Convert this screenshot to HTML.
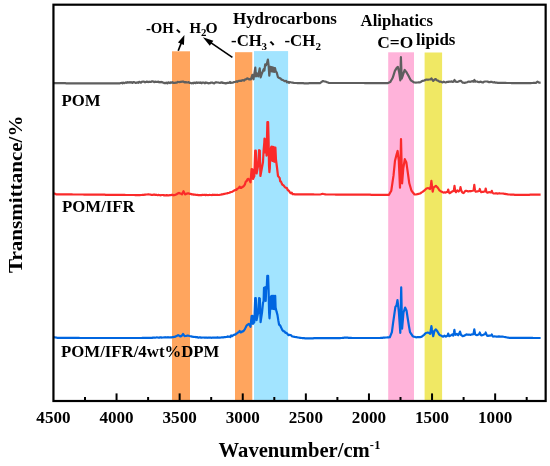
<!DOCTYPE html>
<html><head><meta charset="utf-8"><style>
html,body{margin:0;padding:0;background:#fff;}
svg{display:block;filter:blur(0.4px);}
text{font-family:"Liberation Serif","Noto Serif CJK SC",serif;font-weight:bold;fill:#000;}
</style></head><body>
<svg width="550" height="466" viewBox="0 0 550 466">
<rect x="0" y="0" width="550" height="466" fill="#fff"/>
<rect x="172" y="51.3" width="18" height="349" fill="#FFA55E"/>
<rect x="235" y="52.2" width="17.3" height="348" fill="#FFA55E"/>
<rect x="254" y="51.1" width="34.1" height="349" fill="#A2E4FF"/>
<rect x="388.2" y="52.3" width="25.8" height="348" fill="#FFB3DA"/>
<rect x="424.6" y="52.5" width="17.5" height="348" fill="#F0E864"/>
<g fill="none" stroke-width="2.2" stroke-linejoin="round">
<polyline points="54.0,83.2 54.8,83.2 55.6,83.2 56.4,83.2 57.2,83.2 58.0,83.2 58.8,83.2 59.6,83.2 60.5,83.2 61.3,83.2 62.1,83.2 62.9,83.2 63.7,83.2 64.5,83.2 65.3,83.2 66.1,83.3 66.9,83.3 67.7,83.3 68.5,83.3 69.3,83.3 70.1,83.3 70.9,83.3 71.8,83.3 72.6,83.3 73.4,83.3 74.2,83.3 75.0,83.3 75.8,83.3 76.6,83.3 77.4,83.3 78.2,83.3 79.0,83.3 79.8,83.3 80.6,83.3 81.4,83.3 82.2,83.3 83.1,83.3 83.9,83.3 84.7,83.3 85.5,83.3 86.3,83.3 87.1,83.3 87.9,83.3 88.7,83.4 89.5,83.4 90.3,83.4 91.1,83.4 91.9,83.4 92.7,83.4 93.5,83.4 94.4,83.4 95.2,83.4 96.0,83.4 96.8,83.4 97.6,83.4 98.4,83.4 99.2,83.4 100.0,83.4 100.8,83.4 101.6,83.4 102.4,83.4 103.2,83.4 104.0,83.4 104.8,83.4 105.6,83.4 106.4,83.4 107.2,83.4 108.0,83.4 108.8,83.4 109.6,83.4 110.4,83.3 111.2,83.3 112.0,83.3 112.8,83.3 113.6,83.3 114.4,83.3 115.2,83.3 116.0,83.3 116.8,83.3 117.6,83.3 118.4,83.3 119.2,83.3 120.0,83.3 120.8,83.0 121.7,82.8 122.5,83.3 123.3,82.6 124.2,83.1 125.0,82.8 125.8,82.4 126.7,82.8 127.5,82.2 128.3,82.6 129.2,82.1 130.0,82.6 130.8,82.1 131.7,82.5 132.5,82.9 133.3,82.0 134.2,82.1 135.0,82.6 135.8,83.0 136.7,82.5 137.5,82.3 138.3,82.9 139.2,81.8 140.0,82.3 140.9,82.7 141.7,81.9 142.6,81.7 143.4,81.6 144.3,81.8 145.1,82.3 146.0,81.9 146.8,81.5 147.6,82.0 148.4,82.1 149.2,81.7 150.0,81.9 150.8,82.0 151.7,81.4 152.5,81.4 153.3,81.5 154.2,82.1 155.0,81.8 155.8,81.7 156.7,82.0 157.5,81.8 158.3,81.7 159.2,82.3 160.0,81.9 160.8,82.3 161.7,81.9 162.5,82.5 163.3,82.6 164.2,83.2 165.0,82.9 165.8,83.2 166.6,82.6 167.5,83.4 168.3,82.4 169.1,82.7 169.9,83.1 170.7,82.4 171.5,82.7 172.4,82.2 173.2,82.9 174.0,82.7 174.9,82.9 175.8,82.5 176.8,82.7 177.7,81.9 178.6,82.0 179.5,82.1 180.4,81.9 181.4,81.8 182.3,81.5 183.2,81.5 184.1,82.1 185.0,82.4 185.9,82.1 186.8,82.5 187.7,82.5 188.6,82.1 189.5,82.9 190.5,82.9 191.4,83.4 192.3,82.9 193.2,83.3 194.0,82.7 194.9,82.8 195.7,83.1 196.6,82.4 197.4,82.9 198.3,82.6 199.1,82.5 200.0,83.0 200.8,82.5 201.7,83.3 202.5,82.5 203.3,82.6 204.2,82.8 205.0,83.3 205.8,82.4 206.7,82.8 207.5,82.9 208.3,83.3 209.2,83.2 210.0,83.2 210.8,82.5 211.7,82.7 212.5,82.6 213.3,83.2 214.2,83.3 215.0,82.7 215.8,82.3 216.7,82.4 217.5,82.5 218.3,82.5 219.2,82.8 220.0,83.0 220.8,82.6 221.7,82.3 222.5,82.8 223.3,82.8 224.2,83.1 225.0,83.0 225.8,83.5 226.7,83.1 227.5,82.8 228.3,82.8 229.2,82.8 230.0,82.0 230.8,82.9 231.7,82.7 232.5,82.7 233.3,82.5 234.2,82.0 235.0,82.0 235.8,81.8 236.6,81.3 237.5,81.8 238.3,81.0 239.1,80.8 239.9,80.9 240.7,80.7 241.5,80.8 242.4,80.3 243.2,80.1 244.0,80.6 244.8,79.8 245.6,79.3 246.4,79.2 247.2,78.4 248.0,78.6 249.0,79.3 249.9,79.2 250.9,79.3 252.4,74.9 253.5,79.3 254.4,73.4 255.3,67.6 256.0,76.4 257.1,73.5 258.2,76.4 259.7,68.4 260.6,77.5 261.9,73.5 262.8,71.3 263.7,69.1 264.4,70.5 265.2,64.3 265.9,65.4 267.0,63.3 267.9,59.6 268.6,65.4 269.3,75.7 270.3,66.9 271.2,67.1 271.8,71.4 272.5,67.4 273.1,71.7 273.7,67.8 274.4,71.9 275.0,68.1 275.7,71.3 276.8,72.7 277.9,77.1 279.4,78.2 280.5,78.4 281.6,79.7 282.6,79.8 283.5,80.4 284.5,81.1 285.4,81.1 286.2,80.9 287.1,82.3 288.0,81.9 288.9,82.8 289.7,82.1 290.6,82.3 291.4,82.5 292.2,82.6 293.1,82.7 293.9,82.9 294.8,83.0 295.7,83.0 296.5,83.0 297.4,83.1 298.2,83.1 299.1,83.1 299.9,83.2 300.8,83.2 301.6,83.2 302.4,83.2 303.3,83.2 304.1,83.3 305.0,83.3 305.8,83.3 306.7,83.3 307.5,83.3 308.3,83.3 309.2,83.2 310.0,83.2 310.8,83.2 311.7,83.2 312.5,83.2 313.3,83.2 314.2,83.2 315.0,83.2 315.8,83.2 316.7,83.1 317.5,83.1 318.3,83.1 319.2,83.1 320.0,83.1 321.0,82.4 322.0,81.7 323.0,81.0 324.0,81.3 325.0,81.5 326.0,81.8 327.0,82.2 328.0,82.6 329.0,83.0 329.8,83.0 330.7,83.0 331.5,83.0 332.4,83.0 333.2,83.0 334.1,83.0 334.9,83.0 335.8,83.0 336.6,83.0 337.5,83.0 338.3,83.0 339.2,83.0 340.0,83.0 340.8,83.0 341.6,83.0 342.4,83.0 343.2,83.0 344.0,83.0 344.8,83.0 345.6,83.0 346.4,83.0 347.2,83.0 348.0,83.0 348.8,83.0 349.6,83.0 350.4,83.0 351.2,83.0 352.0,83.0 352.8,83.0 353.6,83.0 354.4,83.0 355.2,83.0 356.0,83.0 356.8,83.0 357.6,83.0 358.4,83.0 359.2,83.0 360.0,83.0 360.8,83.0 361.6,83.0 362.4,83.0 363.2,83.0 364.0,83.0 364.8,83.1 365.6,83.1 366.4,83.1 367.2,83.1 368.0,83.1 368.8,83.1 369.6,83.1 370.4,83.1 371.2,83.1 372.0,83.1 372.8,83.1 373.6,83.1 374.4,83.1 375.2,83.1 376.0,83.1 376.8,83.1 377.6,83.1 378.4,83.1 379.2,83.1 380.0,83.1 380.8,83.1 381.6,83.1 382.4,83.1 383.2,83.1 384.0,83.1 384.8,83.1 385.6,83.1 386.4,83.1 387.2,83.1 388.0,83.1 389.1,82.6 390.2,82.1 391.0,80.7 391.9,79.2 392.7,77.8 393.8,74.3 394.9,70.9 395.8,69.4 396.6,67.9 397.9,67.0 399.2,72.6 400.3,80.3 400.9,57.2 401.7,78.6 402.6,76.1 403.6,73.0 404.7,70.0 405.6,71.1 406.5,72.2 407.6,74.2 408.6,76.1 409.7,78.2 410.8,80.3 411.6,80.8 412.5,81.4 413.4,82.0 414.2,82.5 415.1,82.5 416.0,82.6 416.8,82.5 417.6,82.5 418.4,82.4 419.2,82.4 420.0,82.3 420.9,81.9 421.8,81.2 422.7,80.8 423.6,80.7 424.5,80.5 425.6,79.8 426.8,79.5 428.0,79.8 429.1,79.5 430.5,79.4 431.4,78.4 432.3,79.6 433.2,80.9 434.1,80.0 435.0,79.2 435.9,79.1 436.8,80.3 437.7,80.5 438.9,81.2 440.0,81.8 440.9,81.6 441.8,82.2 442.7,82.3 443.6,81.7 444.5,82.1 445.5,82.5 446.4,82.3 447.3,81.8 448.2,82.0 449.1,81.6 450.0,81.8 450.9,81.6 451.8,81.4 452.6,81.9 453.5,81.6 454.5,80.0 455.5,81.6 456.3,81.7 457.2,82.0 458.0,81.8 459.0,81.3 459.9,80.9 460.9,80.9 461.8,81.8 462.7,82.6 463.6,82.7 464.5,82.9 465.4,82.6 466.2,82.5 467.1,82.2 468.0,81.8 468.9,81.5 469.8,81.8 470.8,81.6 471.7,81.3 472.6,81.2 473.5,81.7 474.4,80.0 475.3,81.7 476.2,81.5 477.2,81.5 478.1,82.0 479.1,82.2 480.0,81.8 480.8,81.7 481.7,82.2 482.5,82.3 483.3,82.3 484.1,81.7 485.0,81.5 485.8,81.5 486.6,81.5 487.5,81.5 488.3,81.9 489.1,82.2 489.9,82.1 490.8,81.8 491.6,81.8 492.5,82.2 493.5,82.5 494.4,82.1 495.3,82.7 496.1,82.7 496.9,82.7 497.7,82.8 498.5,82.8 499.4,82.8 500.2,82.8 501.0,82.8 501.8,82.8 502.6,82.9 503.4,82.9 504.2,82.9 505.0,82.9 505.8,82.9 506.6,83.0 507.5,83.0 508.3,83.0 509.1,83.0 509.9,83.0 510.7,83.0 511.5,83.1 512.3,83.1 513.1,83.1 513.9,83.1 514.8,83.1 515.6,83.1 516.4,83.2 517.2,83.2 518.0,83.2 518.8,83.2 519.6,83.2 520.4,83.2 521.2,83.2 522.0,83.2 522.8,83.2 523.6,83.2 524.4,83.1 525.2,83.1 526.0,83.1 526.8,83.1 527.6,83.1 528.4,83.1 529.2,83.1 530.0,83.1 530.9,83.1 531.7,83.0 532.6,83.0 533.4,82.9 534.3,82.9 535.1,82.8 536.0,82.8 537.5,81.6 539.0,82.6 539.8,82.7 540.6,82.8" stroke="#5E5E5E"/>
<polyline points="54.0,193.3 55.0,193.8 56.0,194.3 56.8,194.3 57.6,194.3 58.4,194.3 59.2,194.3 60.0,194.3 60.8,194.3 61.6,194.4 62.4,194.4 63.2,194.4 64.0,194.4 64.8,194.4 65.6,194.4 66.4,194.4 67.2,194.4 68.0,194.4 68.8,194.4 69.6,194.4 70.4,194.4 71.2,194.4 72.0,194.4 72.8,194.5 73.6,194.5 74.4,194.5 75.2,194.5 76.0,194.5 76.8,194.5 77.6,194.5 78.4,194.5 79.2,194.5 80.0,194.5 80.8,194.5 81.6,194.5 82.4,194.5 83.2,194.5 84.0,194.6 84.8,194.6 85.6,194.6 86.4,194.6 87.2,194.6 88.0,194.6 88.8,194.6 89.6,194.6 90.4,194.6 91.2,194.6 92.0,194.6 92.8,194.6 93.6,194.6 94.4,194.6 95.2,194.7 96.0,194.7 96.8,194.7 97.6,194.7 98.4,194.7 99.2,194.7 100.0,194.7 100.8,194.7 101.6,194.7 102.4,194.7 103.2,194.7 104.0,194.7 104.8,194.7 105.6,194.8 106.4,194.8 107.2,194.8 108.0,194.8 108.8,194.8 109.6,194.8 110.4,194.8 111.2,194.8 112.0,194.8 112.8,194.8 113.6,194.8 114.4,194.8 115.2,194.9 116.0,194.9 116.8,194.9 117.6,194.9 118.4,194.9 119.2,194.9 120.0,194.9 120.8,194.9 121.6,194.9 122.4,194.9 123.2,194.9 124.0,194.9 124.8,194.9 125.6,195.0 126.4,195.0 127.2,195.0 128.0,195.0 128.8,195.0 129.6,195.0 130.4,195.0 131.2,195.0 132.0,195.0 132.8,195.0 133.6,195.0 134.4,195.0 135.2,195.1 136.0,195.1 136.8,195.1 137.6,195.1 138.4,195.1 139.2,195.1 140.0,195.1 140.8,195.0 141.6,195.0 142.4,194.9 143.2,194.8 144.0,194.8 144.8,194.7 145.6,194.6 146.4,194.5 147.2,194.5 148.0,194.4 148.8,194.4 149.6,194.5 150.4,194.6 151.2,194.8 152.0,194.8 152.9,194.8 153.7,194.7 154.5,194.6 155.3,194.9 156.1,194.7 156.9,195.0 157.7,195.2 158.5,194.9 159.3,195.0 160.1,195.3 161.0,195.2 161.8,195.0 162.6,195.0 163.4,195.0 164.2,195.5 165.0,195.3 165.8,195.4 166.7,195.1 167.5,195.4 168.3,195.4 169.2,195.3 170.0,195.1 170.8,195.1 171.7,194.9 172.5,194.8 173.3,195.3 174.2,195.1 175.0,195.0 175.8,194.6 176.6,194.3 177.4,193.6 178.2,193.4 179.0,192.8 180.0,193.5 181.0,193.7 182.0,194.4 183.5,191.2 185.0,194.4 186.0,193.9 187.0,193.6 188.0,193.3 188.8,193.4 189.6,193.8 190.4,193.8 191.2,194.1 192.0,194.4 192.8,194.3 193.6,194.7 194.4,194.5 195.2,194.7 196.0,194.8 196.8,195.0 197.6,194.9 198.4,195.2 199.2,195.0 200.0,195.1 200.8,195.1 201.6,195.1 202.4,194.8 203.2,195.0 204.0,194.9 204.8,194.8 205.6,195.2 206.4,194.8 207.2,195.0 208.0,195.1 208.8,195.0 209.6,194.9 210.4,195.0 211.2,195.0 212.0,195.1 212.8,194.7 213.6,194.9 214.4,194.8 215.2,194.8 216.0,195.0 216.8,194.9 217.6,194.9 218.4,195.0 219.2,195.0 220.0,194.8 220.9,194.6 221.7,194.4 222.6,194.3 223.4,194.1 224.3,193.9 225.2,193.7 226.0,193.5 226.9,193.4 227.7,193.1 228.6,193.0 229.5,192.8 230.3,192.3 231.2,192.0 232.0,191.9 232.9,191.3 233.8,190.7 234.6,190.4 235.5,189.8 236.3,190.0 237.2,188.8 238.0,188.4 238.9,187.9 239.7,186.6 240.6,188.0 241.5,187.9 242.3,186.8 243.2,186.6 244.0,185.8 244.9,184.4 245.8,181.5 246.6,181.2 247.5,179.2 248.3,178.9 249.4,180.0 250.5,182.3 251.6,169.0 252.4,169.5 253.0,178.9 254.3,176.3 255.2,150.5 255.8,150.5 256.6,173.5 258.2,165.2 259.1,150.2 259.8,150.5 260.4,176.0 261.2,171.8 262.0,167.5 263.0,162.0 263.6,150.3 264.3,142.5 264.5,138.6 265.2,152.3 265.9,139.3 266.6,155.6 266.9,140.6 267.4,122.0 268.1,122.0 268.6,140.6 269.0,165.6 269.4,172.2 269.8,168.6 270.4,150.6 271.2,147.0 271.6,146.6 272.2,160.8 272.9,146.9 273.5,161.3 274.1,147.3 274.8,161.8 275.4,147.6 276.0,160.0 277.0,167.5 278.0,176.0 278.9,177.0 279.7,178.2 280.2,181.4 281.0,181.6 281.8,183.6 282.4,184.7 283.4,185.2 284.5,186.7 285.6,187.7 286.7,187.8 287.7,190.0 288.8,190.7 289.8,192.1 290.7,193.2 291.7,192.6 292.6,194.2 293.8,194.2 295.0,194.3 295.8,194.3 296.6,194.3 297.4,194.3 298.2,194.3 299.0,194.3 299.8,194.3 300.6,194.3 301.5,194.4 302.3,194.4 303.1,194.4 303.9,194.4 304.7,194.4 305.5,194.4 306.3,194.4 307.1,194.4 307.9,194.4 308.7,194.4 309.5,194.4 310.3,194.4 311.1,194.4 311.9,194.4 312.7,194.4 313.5,194.4 314.4,194.5 315.2,194.5 316.0,194.5 316.8,194.5 317.6,194.5 318.4,194.5 319.2,194.5 320.0,194.5 320.9,194.3 321.8,194.0 322.7,193.8 323.5,194.0 324.4,194.2 325.2,194.3 326.0,194.5 326.8,194.5 327.6,194.5 328.4,194.5 329.2,194.5 330.0,194.5 330.8,194.5 331.6,194.5 332.4,194.5 333.3,194.5 334.1,194.5 334.9,194.5 335.7,194.6 336.5,194.6 337.3,194.6 338.1,194.6 338.9,194.6 339.7,194.6 340.5,194.6 341.3,194.6 342.1,194.6 342.9,194.6 343.7,194.6 344.5,194.6 345.3,194.6 346.1,194.6 347.0,194.6 347.8,194.6 348.6,194.6 349.4,194.6 350.2,194.6 351.0,194.6 351.8,194.6 352.6,194.6 353.4,194.7 354.2,194.7 355.0,194.7 355.8,194.7 356.6,194.7 357.4,194.7 358.2,194.7 359.0,194.7 359.9,194.7 360.7,194.7 361.5,194.7 362.3,194.7 363.1,194.7 363.9,194.7 364.7,194.7 365.5,194.7 366.3,194.7 367.1,194.7 367.9,194.7 368.7,194.7 369.5,194.7 370.3,194.7 371.1,194.8 371.9,194.8 372.7,194.8 373.6,194.8 374.4,194.8 375.2,194.8 376.0,194.8 376.8,194.8 377.6,194.8 378.4,194.8 379.2,194.8 380.0,194.8 380.8,194.8 381.6,194.8 382.5,194.8 383.3,194.8 384.1,194.8 384.9,194.8 385.7,194.8 386.5,194.8 387.4,194.8 388.2,194.8 389.0,194.8 390.1,192.8 391.3,190.7 392.4,183.2 393.5,175.7 395.0,160.7 396.5,154.7 397.6,151.0 398.8,160.7 400.0,187.7 401.0,139.0 402.1,183.3 403.3,168.2 404.8,159.2 406.3,162.2 407.8,172.7 409.3,183.3 410.4,187.0 411.5,190.7 412.5,192.0 413.5,193.2 414.5,194.5 416.0,194.5 416.8,194.3 417.6,194.1 418.4,193.9 419.2,193.7 420.0,193.5 420.8,193.0 421.6,192.4 422.5,191.9 423.3,191.3 424.1,190.8 425.2,189.7 426.4,188.5 427.3,188.3 428.2,188.1 429.1,188.6 430.0,189.0 430.8,186.0 431.4,180.8 432.0,186.0 432.7,191.7 433.6,187.6 434.8,186.7 435.9,185.8 436.8,186.7 437.7,187.6 438.6,189.0 439.5,190.4 440.6,191.2 441.8,191.7 442.7,192.2 443.6,192.6 444.5,192.3 445.5,192.6 446.4,192.2 447.6,192.0 448.2,189.5 448.8,192.0 449.5,193.1 450.6,192.7 451.8,191.7 452.8,191.2 453.8,191.0 454.5,185.8 455.2,191.0 455.9,192.2 457.3,190.4 458.6,191.5 460.0,190.0 460.5,187.2 461.1,190.0 461.8,191.7 462.7,192.7 463.6,193.1 464.6,191.9 465.5,190.8 466.4,190.9 467.3,191.0 468.1,191.4 469.0,191.3 469.9,191.0 470.7,191.3 471.7,191.0 472.6,190.8 473.6,190.5 474.3,184.9 475.0,190.5 475.7,191.7 476.9,191.4 478.0,191.3 479.2,191.0 479.8,189.0 480.4,191.0 481.2,192.2 482.4,191.8 483.5,191.8 484.3,191.5 485.1,191.5 485.7,188.5 486.3,191.5 487.1,192.6 488.0,192.6 488.9,192.1 489.8,192.3 491.3,192.3 491.8,190.8 492.3,192.5 493.5,193.5 494.3,193.5 495.1,193.5 496.0,193.2 496.8,193.4 497.6,193.6 498.4,193.5 499.2,193.2 500.0,193.5 500.9,193.5 501.7,193.5 502.5,193.5 503.4,193.6 504.3,193.8 505.2,193.9 506.2,194.1 507.1,194.2 508.0,194.4 508.9,194.5 509.7,194.5 510.6,194.6 511.4,194.6 512.2,194.6 513.0,194.7 513.9,194.7 514.7,194.8 515.5,194.8 516.3,194.8 517.2,194.9 518.0,194.9 518.8,194.9 519.6,194.9 520.4,194.9 521.2,194.9 522.0,194.8 522.8,194.8 523.6,194.8 524.5,194.8 525.3,194.8 526.1,194.8 526.9,194.8 527.7,194.8 528.5,194.8 529.3,194.8 530.1,194.7 530.9,194.7 531.7,194.7 532.5,194.7 533.3,194.7 534.1,194.7 535.0,194.7 535.8,194.7 536.6,194.7 537.4,194.6 538.2,194.6 539.0,194.6 539.8,194.6 540.6,194.6" stroke="#FA2A2A"/>
<polyline points="54.0,337.2 54.8,337.3 55.6,337.5 56.4,337.6 57.2,337.8 58.0,337.9 58.8,337.9 59.6,337.9 60.4,337.9 61.2,337.9 62.0,337.9 62.8,337.9 63.7,337.9 64.5,337.9 65.3,337.9 66.1,337.9 66.9,337.9 67.7,337.9 68.5,337.9 69.3,337.9 70.1,337.9 70.9,337.9 71.7,337.9 72.5,337.9 73.3,337.9 74.2,337.9 75.0,337.9 75.8,337.9 76.6,337.9 77.4,337.9 78.2,337.9 79.0,337.9 79.8,338.0 80.6,338.0 81.4,338.0 82.2,338.0 83.0,338.0 83.8,338.0 84.7,338.0 85.5,338.0 86.3,338.0 87.1,338.0 87.9,338.0 88.7,338.0 89.5,338.0 90.3,338.0 91.1,338.0 91.9,338.0 92.7,338.0 93.5,338.0 94.3,338.0 95.2,338.0 96.0,338.0 96.8,338.0 97.6,338.0 98.4,338.0 99.2,338.0 100.0,338.0 100.8,338.0 101.6,338.0 102.4,338.0 103.2,338.0 104.0,338.0 104.8,338.0 105.6,338.0 106.4,338.0 107.2,338.0 108.0,338.0 108.8,338.0 109.6,338.0 110.4,338.0 111.2,338.0 112.0,338.0 112.8,338.0 113.6,338.0 114.4,338.0 115.2,338.0 116.0,338.0 116.8,338.0 117.6,338.0 118.4,338.0 119.2,338.0 120.0,338.0 120.8,338.0 121.6,338.0 122.4,338.0 123.2,338.0 124.0,338.0 124.8,338.0 125.6,338.0 126.4,338.0 127.2,338.0 128.0,338.0 128.8,338.0 129.6,338.0 130.4,338.0 131.2,338.0 132.0,338.0 132.8,338.0 133.6,338.0 134.4,338.0 135.2,338.0 136.0,338.0 136.8,338.0 137.6,338.0 138.4,338.0 139.2,338.0 140.0,338.0 140.8,338.0 141.6,338.0 142.4,337.9 143.2,337.9 144.0,337.9 144.8,337.9 145.6,337.9 146.5,337.8 147.3,337.8 148.1,337.8 148.9,337.8 149.7,337.8 150.5,337.9 151.3,337.8 152.1,337.9 152.9,337.5 153.7,337.6 154.5,337.5 155.3,337.7 156.1,337.5 156.9,337.4 157.7,337.5 158.5,337.7 159.4,337.7 160.2,337.4 161.0,337.4 161.8,337.6 162.6,337.5 163.4,337.5 164.2,337.3 165.0,337.4 165.8,337.2 166.6,337.5 167.4,337.3 168.2,337.2 169.1,337.5 169.9,337.4 170.7,337.4 171.5,337.3 172.4,337.2 173.2,337.1 174.1,336.9 175.0,336.8 176.0,336.2 177.1,335.7 178.1,335.1 178.9,335.6 179.7,336.0 180.5,336.5 182.0,335.5 183.0,334.0 184.6,336.1 185.4,336.0 186.2,335.9 187.1,335.7 187.9,335.6 188.7,335.8 189.5,336.0 190.4,336.2 191.2,336.4 192.0,336.6 192.8,336.8 193.6,336.9 194.4,337.0 195.2,336.9 196.1,337.3 196.9,337.1 197.7,337.4 198.5,337.6 199.3,337.4 200.2,337.4 201.0,337.6 201.8,337.7 202.6,337.5 203.5,337.5 204.3,337.7 205.1,337.6 205.9,337.6 206.8,337.6 207.6,337.8 208.4,337.6 209.3,337.7 210.1,337.7 210.9,337.7 211.7,337.8 212.6,337.6 213.4,337.7 214.2,337.6 215.0,337.6 215.9,337.5 216.7,337.6 217.5,337.4 218.3,337.7 219.2,337.6 220.0,337.6 220.9,337.5 221.7,337.4 222.6,337.4 223.4,337.3 224.3,337.2 225.2,337.1 226.0,337.0 226.9,337.0 227.7,336.4 228.6,336.8 229.5,336.5 230.3,337.0 231.2,335.4 232.0,336.3 232.9,335.5 233.8,335.0 234.6,334.6 235.5,334.7 236.3,333.6 237.2,333.3 238.0,332.5 238.9,332.1 239.7,331.0 240.6,332.4 241.5,332.2 242.3,331.3 243.2,331.5 244.0,330.3 244.9,329.1 245.7,327.4 246.6,325.6 247.7,324.6 248.8,323.9 249.7,325.1 250.5,326.8 251.6,316.0 252.4,315.8 253.0,323.9 254.3,322.2 255.2,298.1 255.8,298.1 256.6,320.1 258.2,312.6 259.1,298.1 259.8,298.4 260.6,322.2 262.0,312.6 263.0,302.9 263.6,301.1 264.0,287.9 264.6,299.9 265.1,287.4 265.7,300.9 266.3,286.9 266.7,288.4 267.3,275.9 268.1,275.9 268.6,290.4 269.1,312.4 269.5,318.3 270.0,312.4 270.6,297.6 271.4,295.9 272.0,308.6 272.7,295.9 273.3,308.9 273.9,295.9 274.6,309.2 275.2,295.9 275.6,307.5 276.5,311.4 277.5,315.1 278.3,320.4 279.1,324.7 280.2,325.5 281.3,327.9 282.3,330.0 283.4,331.1 284.4,331.3 285.5,332.9 286.6,332.9 287.7,334.4 288.6,335.2 289.4,334.8 290.3,335.0 291.1,335.3 292.0,336.4 292.8,336.5 293.6,336.7 294.4,336.8 295.2,337.0 296.0,337.1 296.8,337.2 297.6,337.4 298.4,337.5 299.2,337.7 300.0,337.8 300.8,337.9 301.7,338.0 302.5,338.1 303.3,338.1 304.2,338.2 305.0,338.3 305.8,338.3 306.6,338.3 307.4,338.3 308.3,338.3 309.1,338.3 309.9,338.3 310.7,338.3 311.5,338.3 312.3,338.3 313.1,338.3 314.0,338.2 314.8,338.2 315.6,338.2 316.4,338.2 317.2,338.2 318.0,338.2 318.8,338.2 319.7,338.2 320.5,338.2 321.3,338.2 322.1,338.2 322.9,338.2 323.7,338.2 324.5,338.2 325.3,338.2 326.2,338.2 327.0,338.2 327.8,338.2 328.6,338.2 329.4,338.2 330.2,338.2 331.0,338.2 331.9,338.1 332.7,338.1 333.5,338.1 334.3,338.1 335.1,338.1 335.9,338.1 336.7,338.1 337.6,338.1 338.4,338.1 339.2,338.1 340.0,338.1 340.9,338.0 341.7,338.0 342.6,337.9 343.4,337.8 344.3,337.7 345.1,337.7 346.0,337.6 346.9,337.7 347.7,337.7 348.6,337.8 349.4,337.8 350.3,337.9 351.1,337.9 352.0,338.0 352.8,338.0 353.6,338.0 354.4,338.0 355.2,338.0 356.0,338.0 356.8,338.0 357.6,338.0 358.4,338.0 359.2,338.0 360.0,338.0 360.8,338.0 361.6,338.0 362.4,338.0 363.2,338.0 364.0,338.0 364.8,338.0 365.6,338.0 366.4,338.0 367.2,338.0 368.0,338.0 368.8,338.0 369.6,338.0 370.4,338.0 371.2,338.0 372.0,338.0 372.8,338.0 373.6,338.0 374.4,338.0 375.2,338.0 376.0,338.0 376.8,338.0 377.6,338.0 378.4,338.0 379.2,338.0 380.0,338.0 380.8,337.9 381.6,337.9 382.4,337.8 383.3,337.7 384.1,337.7 384.9,337.6 385.7,337.5 386.5,337.5 387.4,337.4 388.2,337.3 389.0,337.3 389.8,337.2 390.9,334.6 391.9,332.1 392.9,324.4 394.0,316.7 395.4,306.9 396.5,305.5 397.5,300.0 398.9,312.5 400.3,332.8 401.2,287.4 402.1,328.6 403.5,312.5 404.3,310.1 405.1,307.6 406.5,310.4 407.9,319.5 408.9,325.8 410.0,332.1 410.9,333.5 411.9,334.9 412.8,336.3 413.7,336.6 414.6,336.8 415.4,337.1 416.3,337.3 417.2,337.2 418.1,337.2 419.1,337.2 420.0,337.1 420.9,336.9 421.8,336.6 423.0,335.7 424.1,334.8 425.0,333.9 425.9,333.0 426.8,332.8 427.7,332.5 429.1,333.0 430.2,333.9 430.8,330.0 431.4,326.2 432.0,330.0 432.3,331.6 433.2,336.2 434.5,330.7 435.9,329.4 437.3,331.2 438.2,332.8 439.1,334.4 440.2,335.3 441.4,335.7 442.3,336.4 443.2,336.6 444.5,335.7 445.9,336.6 447.3,335.7 447.8,335.0 448.2,333.5 448.7,335.0 449.1,336.2 450.0,335.9 450.9,335.3 452.3,334.4 453.2,335.7 453.9,333.0 454.4,329.8 454.9,333.0 455.5,334.8 456.8,333.9 458.2,335.3 459.5,333.0 460.0,331.6 460.5,333.0 460.9,334.8 461.8,335.4 462.7,336.2 463.6,335.8 464.5,335.7 465.4,334.9 466.4,334.4 467.3,334.6 468.2,334.8 469.0,334.6 469.9,334.8 470.7,334.8 471.6,334.4 472.6,334.5 473.5,334.0 474.3,329.4 475.1,334.0 475.7,334.8 476.9,335.1 478.0,334.8 479.3,334.0 479.8,332.5 480.3,334.0 481.2,335.3 482.4,335.1 483.5,334.8 484.4,334.2 485.2,334.0 485.7,332.5 486.2,334.0 487.1,335.7 488.0,336.0 488.9,335.6 489.8,335.7 491.3,335.5 491.8,334.4 492.3,335.6 493.0,336.6 493.8,336.5 494.7,336.3 495.5,336.5 496.3,336.6 497.2,336.6 498.0,336.6 498.9,336.4 499.8,336.6 500.7,336.6 501.6,336.6 502.5,336.6 503.4,336.8 504.4,337.0 505.3,337.1 506.2,337.3 507.1,337.5 508.0,337.6 508.9,337.8 509.7,337.8 510.5,337.8 511.3,337.8 512.2,337.8 513.0,337.8 513.8,337.8 514.6,337.8 515.4,337.8 516.2,337.8 517.0,337.9 517.8,337.9 518.7,337.9 519.5,337.9 520.3,337.9 521.1,337.9 521.9,337.9 522.7,337.9 523.5,337.9 524.3,337.9 525.2,337.9 526.0,337.9 526.8,337.9 527.6,337.9 528.4,337.9 529.2,337.9 530.0,337.9 530.8,337.9 531.7,337.9 532.5,337.9 533.3,338.0 534.1,338.0 534.9,338.0 535.7,338.0 536.5,338.0 537.3,338.0 538.2,338.0 539.0,338.0 539.8,338.0 540.6,338.0" stroke="#0066E0"/>
</g>
<rect x="53.45" y="4.7" width="492.2" height="396.3" fill="none" stroke="#000" stroke-width="2.2"/>
<g stroke="#000" stroke-width="2">
<line x1="85.00" y1="397.0" x2="85.00" y2="401.0"/>
<line x1="116.55" y1="393.4" x2="116.55" y2="401.0"/>
<line x1="148.10" y1="397.0" x2="148.10" y2="401.0"/>
<line x1="179.65" y1="393.4" x2="179.65" y2="401.0"/>
<line x1="211.20" y1="397.0" x2="211.20" y2="401.0"/>
<line x1="242.75" y1="393.4" x2="242.75" y2="401.0"/>
<line x1="274.30" y1="397.0" x2="274.30" y2="401.0"/>
<line x1="305.85" y1="393.4" x2="305.85" y2="401.0"/>
<line x1="337.40" y1="397.0" x2="337.40" y2="401.0"/>
<line x1="368.95" y1="393.4" x2="368.95" y2="401.0"/>
<line x1="400.50" y1="397.0" x2="400.50" y2="401.0"/>
<line x1="432.05" y1="393.4" x2="432.05" y2="401.0"/>
<line x1="463.60" y1="397.0" x2="463.60" y2="401.0"/>
<line x1="495.15" y1="393.4" x2="495.15" y2="401.0"/>
<line x1="526.70" y1="397.0" x2="526.70" y2="401.0"/>
</g>
<g font-size="17.7px">
<text x="53.45" y="422.8" text-anchor="middle" textLength="34.2" lengthAdjust="spacingAndGlyphs">4500</text>
<text x="116.55" y="422.8" text-anchor="middle" textLength="34.2" lengthAdjust="spacingAndGlyphs">4000</text>
<text x="179.65" y="422.8" text-anchor="middle" textLength="34.2" lengthAdjust="spacingAndGlyphs">3500</text>
<text x="242.75" y="422.8" text-anchor="middle" textLength="34.2" lengthAdjust="spacingAndGlyphs">3000</text>
<text x="305.85" y="422.8" text-anchor="middle" textLength="34.2" lengthAdjust="spacingAndGlyphs">2500</text>
<text x="368.95" y="422.8" text-anchor="middle" textLength="34.2" lengthAdjust="spacingAndGlyphs">2000</text>
<text x="432.05" y="422.8" text-anchor="middle" textLength="34.2" lengthAdjust="spacingAndGlyphs">1500</text>
<text x="495.15" y="422.8" text-anchor="middle" textLength="34.2" lengthAdjust="spacingAndGlyphs">1000</text>
</g>
<text x="61.5" y="105.7" font-size="16.8px">POM</text>
<text x="62" y="211.7" font-size="16.8px">POM/IFR</text>
<text x="61" y="357" font-size="16.8px">POM/IFR/4wt%DPM</text>
<text x="218.6" y="456.8" font-size="20.6px" textLength="151.2" lengthAdjust="spacingAndGlyphs">Wavenumber/cm</text>
<text x="369.8" y="448.9" font-size="12.4px" textLength="10.6" lengthAdjust="spacing">-1</text>
<text transform="translate(21.7,273) rotate(-90)" font-size="19.8px" textLength="157.5" lengthAdjust="spacingAndGlyphs">Transmittance/%</text>
<text x="233" y="24.0" font-size="16.9px">Hydrocarbons</text>
<text x="360.6" y="25.6" font-size="16.7px">Aliphatics</text>
<text x="377.2" y="47.6" font-size="17.4px">C=O</text>
<text x="416" y="44.6" font-size="16.9px">lipids</text>
<text x="145.9" y="32.5" font-size="14.8px">-OH</text>
<text x="175.5" y="31.6" font-size="14px" style="font-family:'Liberation Serif','Noto Sans CJK SC',sans-serif">、</text>
<text x="189.4" y="32.7" font-size="14.8px">H</text>
<text x="200.9" y="36.4" font-size="10.8px">2</text>
<text x="205.6" y="32.8" font-size="15.6px">O</text>
<text x="231.1" y="45.5" font-size="16.8px">-CH</text>
<text x="261.6" y="49.6" font-size="11px">3</text>
<text x="269.0" y="44.2" font-size="15px" style="font-family:'Liberation Serif','Noto Sans CJK SC',sans-serif">、</text>
<text x="284.5" y="45.8" font-size="16.8px">-CH</text>
<text x="315.6" y="49.6" font-size="11px">2</text>
<line x1="178.2" y1="50.8" x2="181.31" y2="42.82" stroke="#000" stroke-width="1.7"/><polygon points="184.4,34.9 183.93,44.91 177.97,42.59" fill="#000"/>
<line x1="232.4" y1="57.4" x2="210.75" y2="42.65" stroke="#000" stroke-width="1.7"/><polygon points="202.9,37.3 213.32,40.65 209.83,45.77" fill="#000"/>
</svg>
</body></html>
